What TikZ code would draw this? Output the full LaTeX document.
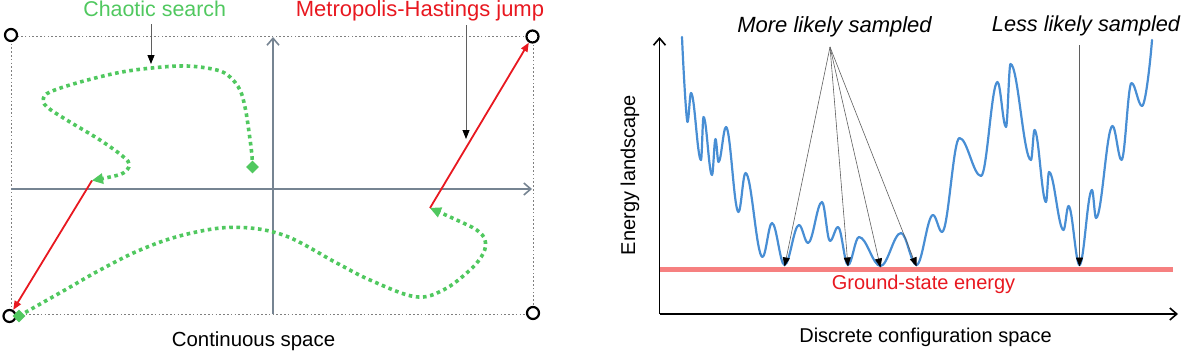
\documentclass[tikz,border=0pt]{standalone}
\usepackage{fontspec}
\setmainfont{Liberation Sans}
\usetikzlibrary{arrows.meta,shapes.geometric}
\definecolor{cgreen}{RGB}{80,200,95}
\definecolor{cred}{RGB}{232,24,32}
\definecolor{cblue}{RGB}{72,142,212}
\definecolor{caxis}{RGB}{118,132,146}
\definecolor{cground}{RGB}{246,128,128}
\definecolor{cptr}{RGB}{95,95,95}
\newcommand\myfs[1]{\fontsize{#1}{#1}\selectfont}
\begin{document}
\begin{tikzpicture}[x=1pt,y=-1pt,
  dotbox/.style={draw=cptr!80, line width=1pt, dash pattern=on 1.6pt off 2.2pt},
  grayaxis/.style={draw=caxis, line width=1.8pt, -{Straight Barb[length=7pt,width=12pt,line width=1.6pt]}},
  blackaxis/.style={draw=black, line width=1.8pt, -{Straight Barb[length=7pt,width=12pt,line width=1.6pt]}},
  corner/.style={circle, draw=black, fill=white, line width=2.2pt, minimum size=12pt, inner sep=0pt},
  greenpath/.style={draw=cgreen, line width=3.6pt, dash pattern=on 3.6pt off 3.6pt, -{Triangle[length=11pt,width=11pt,line width=0pt]}},
  marker/.style={diamond, fill=cgreen, minimum size=13pt, inner sep=0pt},
  jump/.style={draw=cred, line width=1.8pt, -{Triangle[length=9pt,width=7pt]}},
  pointer/.style={draw=cptr, line width=0.8pt, -{Triangle[length=9pt,width=7pt,color=black]}},
  energy/.style={draw=cblue, line width=2.2pt, line join=round, line cap=round},
  label/.style={inner sep=0pt, anchor=base}
]
\useasboundingbox (0,0) rectangle (1185,351);

% ---------------- left panel ----------------
\draw[dotbox] (11,36) rectangle (533,314);
\coordinate (hx0) at (11,189);
\coordinate (hx1) at (532,189);
\coordinate (vy0) at (273,314);
\coordinate (vy1) at (273,37);
\draw[grayaxis] (hx0) -- (hx1);
\draw[grayaxis] (vy0) -- (vy1);

\coordinate (s1) at (252.5,167);
\coordinate (e1) at (92,180.5);
\coordinate (s2) at (19,316);
\coordinate (e2) at (430,208);

\draw[greenpath] plot[smooth, tension=0.6] coordinates {(s1) (251.7,153) (248.3,127) (245,107) (240,90) (230,77) (216.7,70) (186.7,66) (151.7,68) (116.7,73) (76.7,83) (50,92) (43.3,98.5) (46.7,106.7) (66.7,120) (100,140) (123.3,156.7) (129.3,165) (123.3,173) (110,177) (e1)};
\draw[greenpath] plot[smooth, tension=0.6] coordinates {(s2) (66.7,289) (100,270) (140,250) (183.3,235) (233.3,227.3) (283.3,235) (336.7,263) (370,280) (415,296.7) (443.3,290) (470,270) (483.3,253.3) (485,240) (476.7,230) (456.7,220) (e2)};

\node[corner] (tl) at (11,35) {};
\node[corner] (tr) at (532.5,36.5) {};
\node[corner] (bl) at (9.5,316) {};
\node[corner] (br) at (533,313) {};

\draw[jump] (e2) -- (tr);
\draw[jump] (e1) -- (bl);

\node[marker] (m1) at (s1) {};
\node[marker] (m2) at (s2) {};

\node[label, text=cgreen] (chaos) at (154.7,16.7) {\myfs{21.4}Chaotic search};
\node[label, text=cred] (mh) at (420,16.7) {\myfs{22}Metropolis-Hastings jump};
\node[label] (cs) at (253.5,346) {\myfs{20.4}Continuous space};

\coordinate (cp0) at (151,24);
\coordinate (cp1) at (151,64);
\coordinate (mp0) at (466,25);
\coordinate (mp1) at (466,139);
\draw[pointer] (cp0) -- (cp1);
\draw[pointer] (mp0) -- (mp1);

% ---------------- right panel ----------------
\coordinate (o) at (659.5,314);
\coordinate (ytop) at (659.5,37);
\coordinate (xend) at (1178,314);
\draw[blackaxis] (o) -- (ytop);
\draw[blackaxis] (o) -- (xend);

\coordinate (g0) at (660,269.5);
\coordinate (g1) at (1172.5,269.5);
\draw[draw=cground, line width=5.5pt] (g0) -- (g1);

\draw[energy] (682,37) .. controls +(1,25) and +(-1.2,0) .. (687.5,122)
.. controls +(1.26,0) and +(-1.26,0) .. (691,93)
.. controls +(3.6,0) and +(-3.6,0) .. (701,160)
.. controls +(0.9,0) and +(-0.9,0) .. (703.5,117)
.. controls +(3.06,0) and +(-3.06,0) .. (712,175)
.. controls +(1.26,0) and +(-1.26,0) .. (715.5,139)
.. controls +(1.08,0) and +(-1.08,0) .. (718.5,162)
.. controls +(2.7,0) and +(-2.7,0) .. (726,127)
.. controls +(4.5,0) and +(-4.5,0) .. (738.5,212)
.. controls +(2.52,0) and +(-2.52,0) .. (745.5,173)
.. controls +(6.12,0) and +(-6.12,0) .. (762.5,257)
.. controls +(3.42,0) and +(-3.42,0) .. (772,223)
.. controls +(4.5,0) and +(-4.5,0) .. (784.5,265)
.. controls +(5.22,0) and +(-5.22,0) .. (799,225)
.. controls +(3.24,0) and +(-3.24,0) .. (808,243)
.. controls +(5.04,0) and +(-5.04,0) .. (822,202)
.. controls +(2.88,0) and +(-2.88,0) .. (830,241)
.. controls +(2.88,0) and +(-2.88,0) .. (838,227)
.. controls +(3.6,0) and +(-3.6,0) .. (848,265)
.. controls +(3.96,0) and +(-3.96,0) .. (859,237)
.. controls +(7.74,0) and +(-7.74,0) .. (880.5,266)
.. controls +(7.38,0) and +(-7.38,0) .. (901,233)
.. controls +(5.58,0) and +(-5.58,0) .. (916.5,265)
.. controls +(5.94,0) and +(-5.94,0) .. (933,215)
.. controls +(3.24,0) and +(-3.24,0) .. (942,232)
.. controls +(6.3,0) and +(-6.3,0) .. (959.5,138)
.. controls +(7.74,0) and +(-7.74,0) .. (981,176)
.. controls +(5.94,0) and +(-5.94,0) .. (997.5,82)
.. controls +(3.06,0) and +(-3.06,0) .. (1006,127)
.. controls +(1.62,0) and +(-1.62,0) .. (1010.5,64)
.. controls +(7.38,0) and +(-7.38,0) .. (1031,160)
.. controls +(1.26,0) and +(-1.26,0) .. (1034.5,130)
.. controls +(4.14,0) and +(-4.14,0) .. (1046,202)
.. controls +(1.08,0) and +(-1.08,0) .. (1049,172)
.. controls +(5.22,0) and +(-5.22,0) .. (1063.5,230)
.. controls +(1.8,0) and +(-1.8,0) .. (1068.5,206)
.. controls +(3.96,0) and +(-3.96,0) .. (1079.5,265)
.. controls +(4.5,0) and +(-4.5,0) .. (1092,190)
.. controls +(1.44,0) and +(-1.44,0) .. (1096,218)
.. controls +(5.94,0) and +(-5.94,0) .. (1112.5,126)
.. controls +(3.24,0) and +(-3.24,0) .. (1121.5,160)
.. controls +(3.6,0) and +(-3.6,0) .. (1131.5,83)
.. controls +(3.78,0) and +(-3.78,0) .. (1142,106)
.. controls +(3.5,0) and +(-1.5,20) .. (1152,40);

\node[label] (more) at (834.5,32.3) {\myfs{22}\itshape More likely sampled};
\node[label] (less) at (1086,31.7) {\myfs{21.7}\itshape Less likely sampled};
\node[label, text=cred] (gs) at (923.5,289) {\myfs{20}Ground-state energy};
\node[label] (dcs) at (925.5,342.3) {\myfs{20}Discrete configuration space};
\node[label, rotate=90] (el) at (635,175) {\myfs{20}Energy landscape};

\coordinate (apex) at (830,47);
\coordinate (t1) at (784.5,266.5);
\coordinate (t2) at (848,266.5);
\coordinate (t3) at (880.5,267.5);
\coordinate (t4) at (916.5,266.5);
\coordinate (lp0) at (1079.5,45);
\coordinate (t5) at (1079.5,266.5);
\foreach \t in {t1,t2,t3,t4}
  \draw[pointer, line width=0.6pt] (apex) -- (\t);
\draw[pointer, line width=0.6pt] (lp0) -- (t5);
\end{tikzpicture}
\end{document}
